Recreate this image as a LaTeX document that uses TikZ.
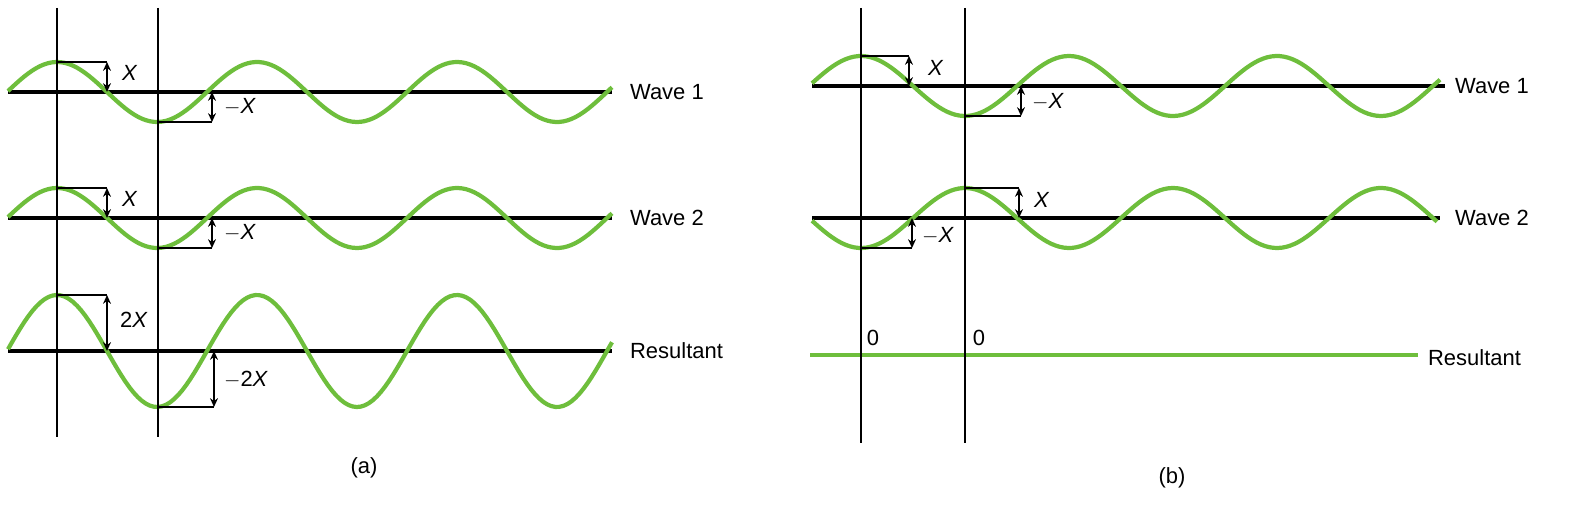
\documentclass[tikz,border=0pt]{standalone}
\usepackage{fontspec}
\setmainfont{Liberation Sans}
\usetikzlibrary{arrows.meta}
\tikzset{
  wave/.style={draw={rgb,255:red,110;green,190;blue,60}, line width=2.4pt},
  axis/.style={draw=black, line width=1.8pt},
  guide/.style={draw=black, line width=0.7pt},
  tick/.style={draw=black, line width=0.7pt},
  amp/.style={draw=black, line width=0.9pt, {Stealth[length=5pt,width=4.5pt]}-{Stealth[length=5pt,width=4.5pt]}},
  lbl/.style={font=\fontsize{12.5}{14}\selectfont, inner sep=1pt},
}
\begin{document}
\begin{tikzpicture}[x=0.02cm,y=-0.02cm]
\useasboundingbox (0,0) rectangle (1575,513);
% panel (a)
\foreach \ya/\am in {92/30,218/30,351/56}{
  \draw[axis] (8,\ya) -- (612,\ya);
  \draw[wave] plot[domain=8:612,samples=150] (\x,{\ya-\am*cos((\x-57)*1.8)});
}
\draw[guide] (57,8) -- (57,437);
\draw[guide] (158,8) -- (158,437);
\foreach \ya/\am/\n in {92/30/1,218/30/2}{
  \coordinate (pk\n) at (57,\ya-\am);
  \coordinate (pt\n) at (107,\ya-\am);
  \coordinate (ax\n) at (107,\ya);
  \coordinate (tr\n) at (157,\ya+\am);
  \coordinate (tt\n) at (212,\ya+\am);
  \coordinate (bx\n) at (212,\ya);
  \draw[tick] (pk\n) -- (pt\n);
  \draw[amp] (pt\n) -- (ax\n);
  \draw[tick] (tr\n) -- (tt\n);
  \draw[amp] (tt\n) -- (bx\n);
  \node[lbl, anchor=west] (xp\n) at (120,\ya-\am/2-4) {\itshape X};
  \node[lbl, anchor=west] (xm\n) at (222,\ya+\am/2) {$-$\itshape X};
  \node[lbl, anchor=west] (w\n) at (628,\ya) {Wave \n};
}
\coordinate (pk3) at (57,295);
\coordinate (pt3) at (107,295);
\coordinate (ax3) at (107,351);
\coordinate (tr3) at (157,407);
\coordinate (tt3) at (214,407);
\coordinate (bx3) at (214,351);
\draw[tick] (pk3) -- (pt3);
\draw[amp] (pt3) -- (ax3);
\draw[tick] (tr3) -- (tt3);
\draw[amp] (tt3) -- (bx3);
\node[lbl, anchor=west] (xp3) at (118,320) {2\itshape X};
\node[lbl, anchor=west] (xm3) at (222,380) {$-$2\itshape X};
\node[lbl, anchor=west] (res) at (628,351) {Resultant};
\node[lbl] (capa) at (364,468) {(a)};
% panel (b)
\draw[axis] (812,86) -- (1445,86);
\draw[wave] plot[domain=812:1440,samples=150] (\x,{86-30*cos((\x-861)*1.7308)});
\draw[axis] (812,218) -- (1440,218);
\draw[wave] plot[domain=812:1437,samples=150] (\x,{218+30*cos((\x-861)*1.7308)});
\draw[wave] (810,355) -- (1418,355);
\draw[guide] (861,8) -- (861,443);
\draw[guide] (965,8) -- (965,443);
\coordinate (pb1) at (861,56);
\coordinate (qb1) at (909,56);
\coordinate (ab1) at (909,86);
\coordinate (rb1) at (965,116);
\coordinate (sb1) at (1021,116);
\coordinate (bb1) at (1021,86);
\draw[tick] (pb1) -- (qb1);
\draw[amp] (qb1) -- (ab1);
\draw[tick] (rb1) -- (sb1);
\draw[amp] (sb1) -- (bb1);
\node[lbl, anchor=west] (xb1) at (926,68) {\itshape X};
\node[lbl, anchor=west] (yb1) at (1030,102) {$-$\itshape X};
\node[lbl, anchor=west] (wb1) at (1453,86) {Wave 1};
\coordinate (pb2) at (965,188);
\coordinate (qb2) at (1019,188);
\coordinate (ab2) at (1019,218);
\coordinate (rb2) at (861,248);
\coordinate (sb2) at (912,248);
\coordinate (bb2) at (912,218);
\draw[tick] (pb2) -- (qb2);
\draw[amp] (qb2) -- (ab2);
\draw[tick] (rb2) -- (sb2);
\draw[amp] (sb2) -- (bb2);
\node[lbl, anchor=west] (xb2) at (1032,200) {\itshape X};
\node[lbl, anchor=west] (yb2) at (920,236) {$-$\itshape X};
\node[lbl, anchor=west] (wb2) at (1453,218) {Wave 2};
\node[lbl] (z1) at (873,338) {0};
\node[lbl] (z2) at (979,338) {0};
\node[lbl, anchor=west] (resb) at (1426,358) {Resultant};
\node[lbl] (capb) at (1172,478) {(b)};
\end{tikzpicture}
\end{document}
